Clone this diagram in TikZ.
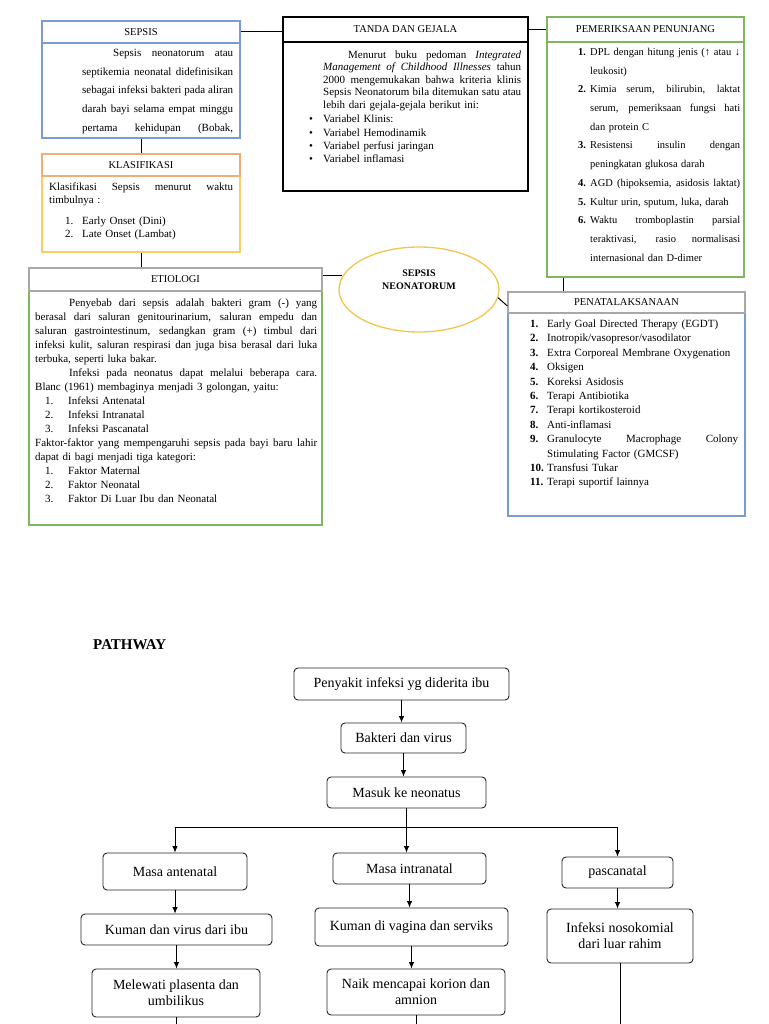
\documentclass[tikz,border=0pt]{standalone}
\usepackage{fontspec}
\setmainfont{Liberation Serif}
\usetikzlibrary{arrows.meta,shapes.geometric,calc}
\definecolor{cblue}{HTML}{7A9CD3}
\definecolor{corange}{HTML}{F0AE72}
\definecolor{cyellow}{HTML}{F7D064}
\definecolor{cgreen}{HTML}{80B660}
\definecolor{cgray}{HTML}{A8A8A8}
\definecolor{cgold}{HTML}{F2C54E}
\newcommand\JL[2]{\leavevmode{\spaceskip=0.25em plus 3em minus 0.08em\relax\xspaceskip=0.3em plus 3em minus 0.08em\relax\hbox to #1pt{#2}}}
\begin{document}
\begin{tikzpicture}[x=1pt,y=-1pt,
 box/.style={draw, line width=1.2pt, inner sep=0pt, rectangle},
 hdr/.style={box, font=\fontsize{10.5}{12}\selectfont},
 txt/.style={anchor=base west, inner sep=0pt, align=left},
 pbox/.style={draw=black!85, line width=0.9pt, rounded corners=4pt, inner sep=0pt, align=center, font=\fontsize{14}{16}\selectfont},
 arr/.style={line width=0.8pt, -{Latex[length=6.5pt,width=5.5pt]}},
 pline/.style={line width=0.8pt},
 con/.style={line width=1pt}]
\useasboundingbox (0,0) rectangle (768,1024);
\fill[white] (0,0) rectangle (768,1024);

% SEPSIS
\node[box, draw=cblue, minimum width=198, minimum height=95] (sb) at (141,90.5) {};
\node[hdr, draw=cblue, minimum width=198, minimum height=22] (sh) at (141,32) {SEPSIS};
\node[txt, text width=151pt, font=\fontsize{11}{18.7}\selectfont] (st) at (82,56.5) {%
\hspace*{31pt}\JL{120}{Sepsis neonatorum atau}\\
\JL{151}{septikemia neonatal didefinisikan}\\
\JL{151}{sebagai infeksi bakteri pada aliran}\\
\JL{151}{darah bayi selama empat minggu}\\
\JL{151}{pertama kehidupan (Bobak,}};

% KLASIFIKASI
\node[box, draw=cyellow, minimum width=198, minimum height=76] (kb) at (141,214) {};
\node[hdr, draw=corange, minimum width=198, minimum height=22] (kh) at (141,165) {KLASIFIKASI};
\node[txt, text width=184pt, font=\fontsize{11}{13}\selectfont] (kt) at (49,190.5) {%
\JL{184}{Klasifikasi Sepsis menurut waktu}\\
timbulnya :\\[8pt]
\hspace*{16pt}\makebox[17pt][l]{1.}Early Onset (Dini)\\
\hspace*{16pt}\makebox[17pt][l]{2.}Late Onset (Lambat)};

% TANDA DAN GEJALA
\node[box, draw=black, minimum width=245, minimum height=149] (tb) at (405.5,116.5) {};
\node[hdr, draw=black, minimum width=245, minimum height=25] (th) at (405.5,29.5) {TANDA DAN GEJALA};
\draw[line width=1.6pt] (th.south west) -- (th.south east);
\node[txt, text width=198pt, font=\fontsize{11}{12.5}\selectfont] (tp) at (323,58.5) {%
\hspace*{25pt}\JL{173}{Menurut buku pedoman \textit{Integrated}}\\
\JL{198}{\textit{Management of Childhood Illnesses} tahun}\\
\JL{198}{2000 mengemukakan bahwa kriteria klinis}\\
\JL{198}{Sepsis Neonatorum bila ditemukan satu atau}\\
lebih dari gejala-gejala berikut ini:};
\node[txt, text width=200pt, font=\fontsize{11}{13.3}\selectfont] (tl) at (309,123) {%
\makebox[14pt][l]{•}Variabel Klinis:\\
\makebox[14pt][l]{•}Variabel Hemodinamik\\
\makebox[14pt][l]{•}Variabel perfusi jaringan\\
\makebox[14pt][l]{•}Variabel inflamasi};

% PEMERIKSAAN PENUNJANG
\node[box, draw=cgreen, minimum width=197, minimum height=235] (pb) at (645.5,159.5) {};
\node[hdr, draw=cgreen, minimum width=197, minimum height=25] (ph) at (645.5,29.5) {PEMERIKSAAN PENUNJANG};
\node[txt, text width=165pt, font=\fontsize{10.5}{18.7}\selectfont] (pt) at (578,55.5) {%
\makebox[12pt][l]{\textbf{1.}}\JL{150}{DPL dengan hitung jenis (↑ atau ↓}\\
\hspace*{12pt}leukosit)\\
\makebox[12pt][l]{\textbf{2.}}\JL{150}{Kimia serum, bilirubin, laktat}\\
\hspace*{12pt}\JL{150}{serum, pemeriksaan fungsi hati}\\
\hspace*{12pt}dan protein C\\
\makebox[12pt][l]{\textbf{3.}}\JL{150}{Resistensi insulin dengan}\\
\hspace*{12pt}peningkatan glukosa darah\\
\makebox[12pt][l]{\textbf{4.}}\JL{150}{AGD (hipoksemia, asidosis laktat)}\\
\makebox[12pt][l]{\textbf{5.}}Kultur urin, sputum, luka, darah\\
\makebox[12pt][l]{\textbf{6.}}\JL{150}{Waktu tromboplastin parsial}\\
\hspace*{12pt}\JL{150}{teraktivasi, rasio normalisasi}\\
\hspace*{12pt}internasional dan D-dimer};

% ETIOLOGI
\node[box, draw=cgreen, minimum width=293, minimum height=234] (ebody) at (175.5,408) {};
\node[hdr, draw=cgray, minimum width=293, minimum height=23] (eh) at (175.5,279.5) {ETIOLOGI};
\node[txt, text width=282pt, font=\fontsize{11}{14}\selectfont] (et) at (35,306.5) {%
\hspace*{34pt}\JL{248}{Penyebab dari sepsis adalah bakteri gram (-) yang}\\
\JL{282}{berasal dari saluran genitourinarium, saluran empedu dan}\\
\JL{282}{saluran gastrointestinum, sedangkan gram (+) timbul dari}\\
\JL{282}{infeksi kulit, saluran respirasi dan juga bisa berasal dari luka}\\
terbuka, seperti luka bakar.\\
\hspace*{34pt}\JL{248}{Infeksi pada neonatus dapat melalui beberapa cara.}\\
Blanc (1961) membaginya menjadi 3 golongan, yaitu:\\
\hspace*{10pt}\makebox[23pt][l]{1.}Infeksi Antenatal\\
\hspace*{10pt}\makebox[23pt][l]{2.}Infeksi Intranatal\\
\hspace*{10pt}\makebox[23pt][l]{3.}Infeksi Pascanatal\\
\JL{282}{Faktor-faktor yang mempengaruhi sepsis pada bayi baru lahir}\\
dapat di bagi menjadi tiga kategori:\\
\hspace*{10pt}\makebox[23pt][l]{1.}Faktor Maternal\\
\hspace*{10pt}\makebox[23pt][l]{2.}Faktor Neonatal\\
\hspace*{10pt}\makebox[23pt][l]{3.}Faktor Di Luar Ibu dan Neonatal};

% ELLIPSE
\node[ellipse, draw=cgold, line width=1.3pt, minimum width=160, minimum height=85, inner sep=0pt] (ell) at (419,289.5) {};
\node[font=\bfseries\fontsize{10}{13}\selectfont, align=center, inner sep=0pt] (elt) at (419,280) {SEPSIS\\NEONATORUM};

% PENATALAKSANAAN
\node[box, draw=cblue, minimum width=237, minimum height=203] (nb) at (626.5,414.5) {};
\node[hdr, draw=cgray, minimum width=237, minimum height=21] (nh) at (626.5,302.5) {PENATALAKSANAAN};
\node[txt, text width=210pt, font=\fontsize{11}{14.4}\selectfont] (nt) at (530,327.5) {%
\makebox[17pt][l]{\textbf{1.}}Early Goal Directed Therapy (EGDT)\\
\makebox[17pt][l]{\textbf{2.}}Inotropik/vasopresor/vasodilator\\
\makebox[17pt][l]{\textbf{3.}}Extra Corporeal Membrane Oxygenation\\
\makebox[17pt][l]{\textbf{4.}}Oksigen\\
\makebox[17pt][l]{\textbf{5.}}Koreksi Asidosis\\
\makebox[17pt][l]{\textbf{6.}}Terapi Antibiotika\\
\makebox[17pt][l]{\textbf{7.}}Terapi kortikosteroid\\
\makebox[17pt][l]{\textbf{8.}}Anti-inflamasi\\
\makebox[17pt][l]{\textbf{9.}}\JL{191}{Granulocyte Macrophage Colony}\\
\hspace*{17pt}Stimulating Factor (GMCSF)\\
\makebox[17pt][l]{\textbf{10.}}Transfusi Tukar\\
\makebox[17pt][l]{\textbf{11.}}Terapi suportif lainnya};

% top connectors
\draw[con] (sh.east) -- (sh.east -| th.west);
\draw[con] (th.east) -- (ph.west);
\draw[con] (sb.south) -- (kh.north);
\draw[con] (kb.south) -- (kb.south |- eh.north);
\draw[con] (ell.170.7) -- (ell.170.7 -| eh.east);
\coordinate (pbx) at ($(pb.south west)+(17,0)$);
\draw[con] (pbx) -- (pbx |- nh.north);
\coordinate (nhw) at ($(nh.west)+(0,3.5)$);
\draw[con] (ell.-6) -- (nhw);

% PATHWAY
\node[font=\bfseries\fontsize{15}{18}\selectfont, anchor=west, inner sep=0pt] (pw) at (93,645) {PATHWAY};
\node[pbox, minimum width=215, minimum height=32] (p1) at (401.5,684) {Penyakit infeksi yg diderita ibu};
\node[pbox, minimum width=125, minimum height=30] (p2) at (403.5,738) {Bakteri dan virus};
\node[pbox, minimum width=159, minimum height=31] (p3) at (406.5,792.5) {Masuk ke neonatus};
\node[pbox, minimum width=144, minimum height=37] (a1) at (175,871.5) {Masa antenatal};
\node[pbox, minimum width=191, minimum height=31] (a2) at (176.5,929.5) {Kuman dan virus dari ibu};
\node[pbox, minimum width=168, minimum height=48] (a3) at (176,993) {Melewati plasenta dan\\umbilikus};
\node[pbox, minimum width=153, minimum height=31] (b1) at (409.5,868.5) {Masa intranatal};
\node[pbox, minimum width=193, minimum height=38] (b2) at (411.5,927) {Kuman di vagina dan serviks};
\node[pbox, minimum width=178, minimum height=46] (b3) at (416,992) {Naik mencapai korion dan\\amnion};
\node[pbox, minimum width=111, minimum height=31] (c1) at (617.5,872.5) {pascanatal};
\node[pbox, minimum width=146, minimum height=54] (c2) at (620,936) {Infeksi nosokomial\\dari luar rahim};

\draw[arr] (p1.south) -- (p1.south |- p2.north);
\draw[arr] (p2.south) -- (p2.south |- p3.north);
\coordinate (bus) at (407,827);
\draw[pline] (p3.south) -- (p3.south |- bus);
\draw[pline] (a1.north |- bus) -- (c1.north |- bus);
\draw[arr] (a1.north |- bus) -- (a1.north);
\draw[arr] (p3.south |- bus) -- (p3.south |- b1.north);
\draw[arr] (c1.north |- bus) -- (c1.north);
\draw[arr] (a1.south) -- (a1.south |- a2.north);
\draw[arr] (a2.south) -- (a2.south |- a3.north);
\draw[arr] (b1.south) -- (b1.south |- b2.north);
\draw[arr] (b2.south) -- (b2.south |- b3.north);
\draw[arr] (c1.south) -- (c1.south |- c2.north);
\coordinate (ea) at (177,1024);
\coordinate (eb) at (410,1024);
\coordinate (ec) at (617,1024);
\draw[pline] (a3.south) -- (a3.south |- ea);
\draw[pline] (b3.south) -- (b3.south |- eb);
\draw[pline] (c2.south) -- (c2.south |- ec);
\end{tikzpicture}
\end{document}
